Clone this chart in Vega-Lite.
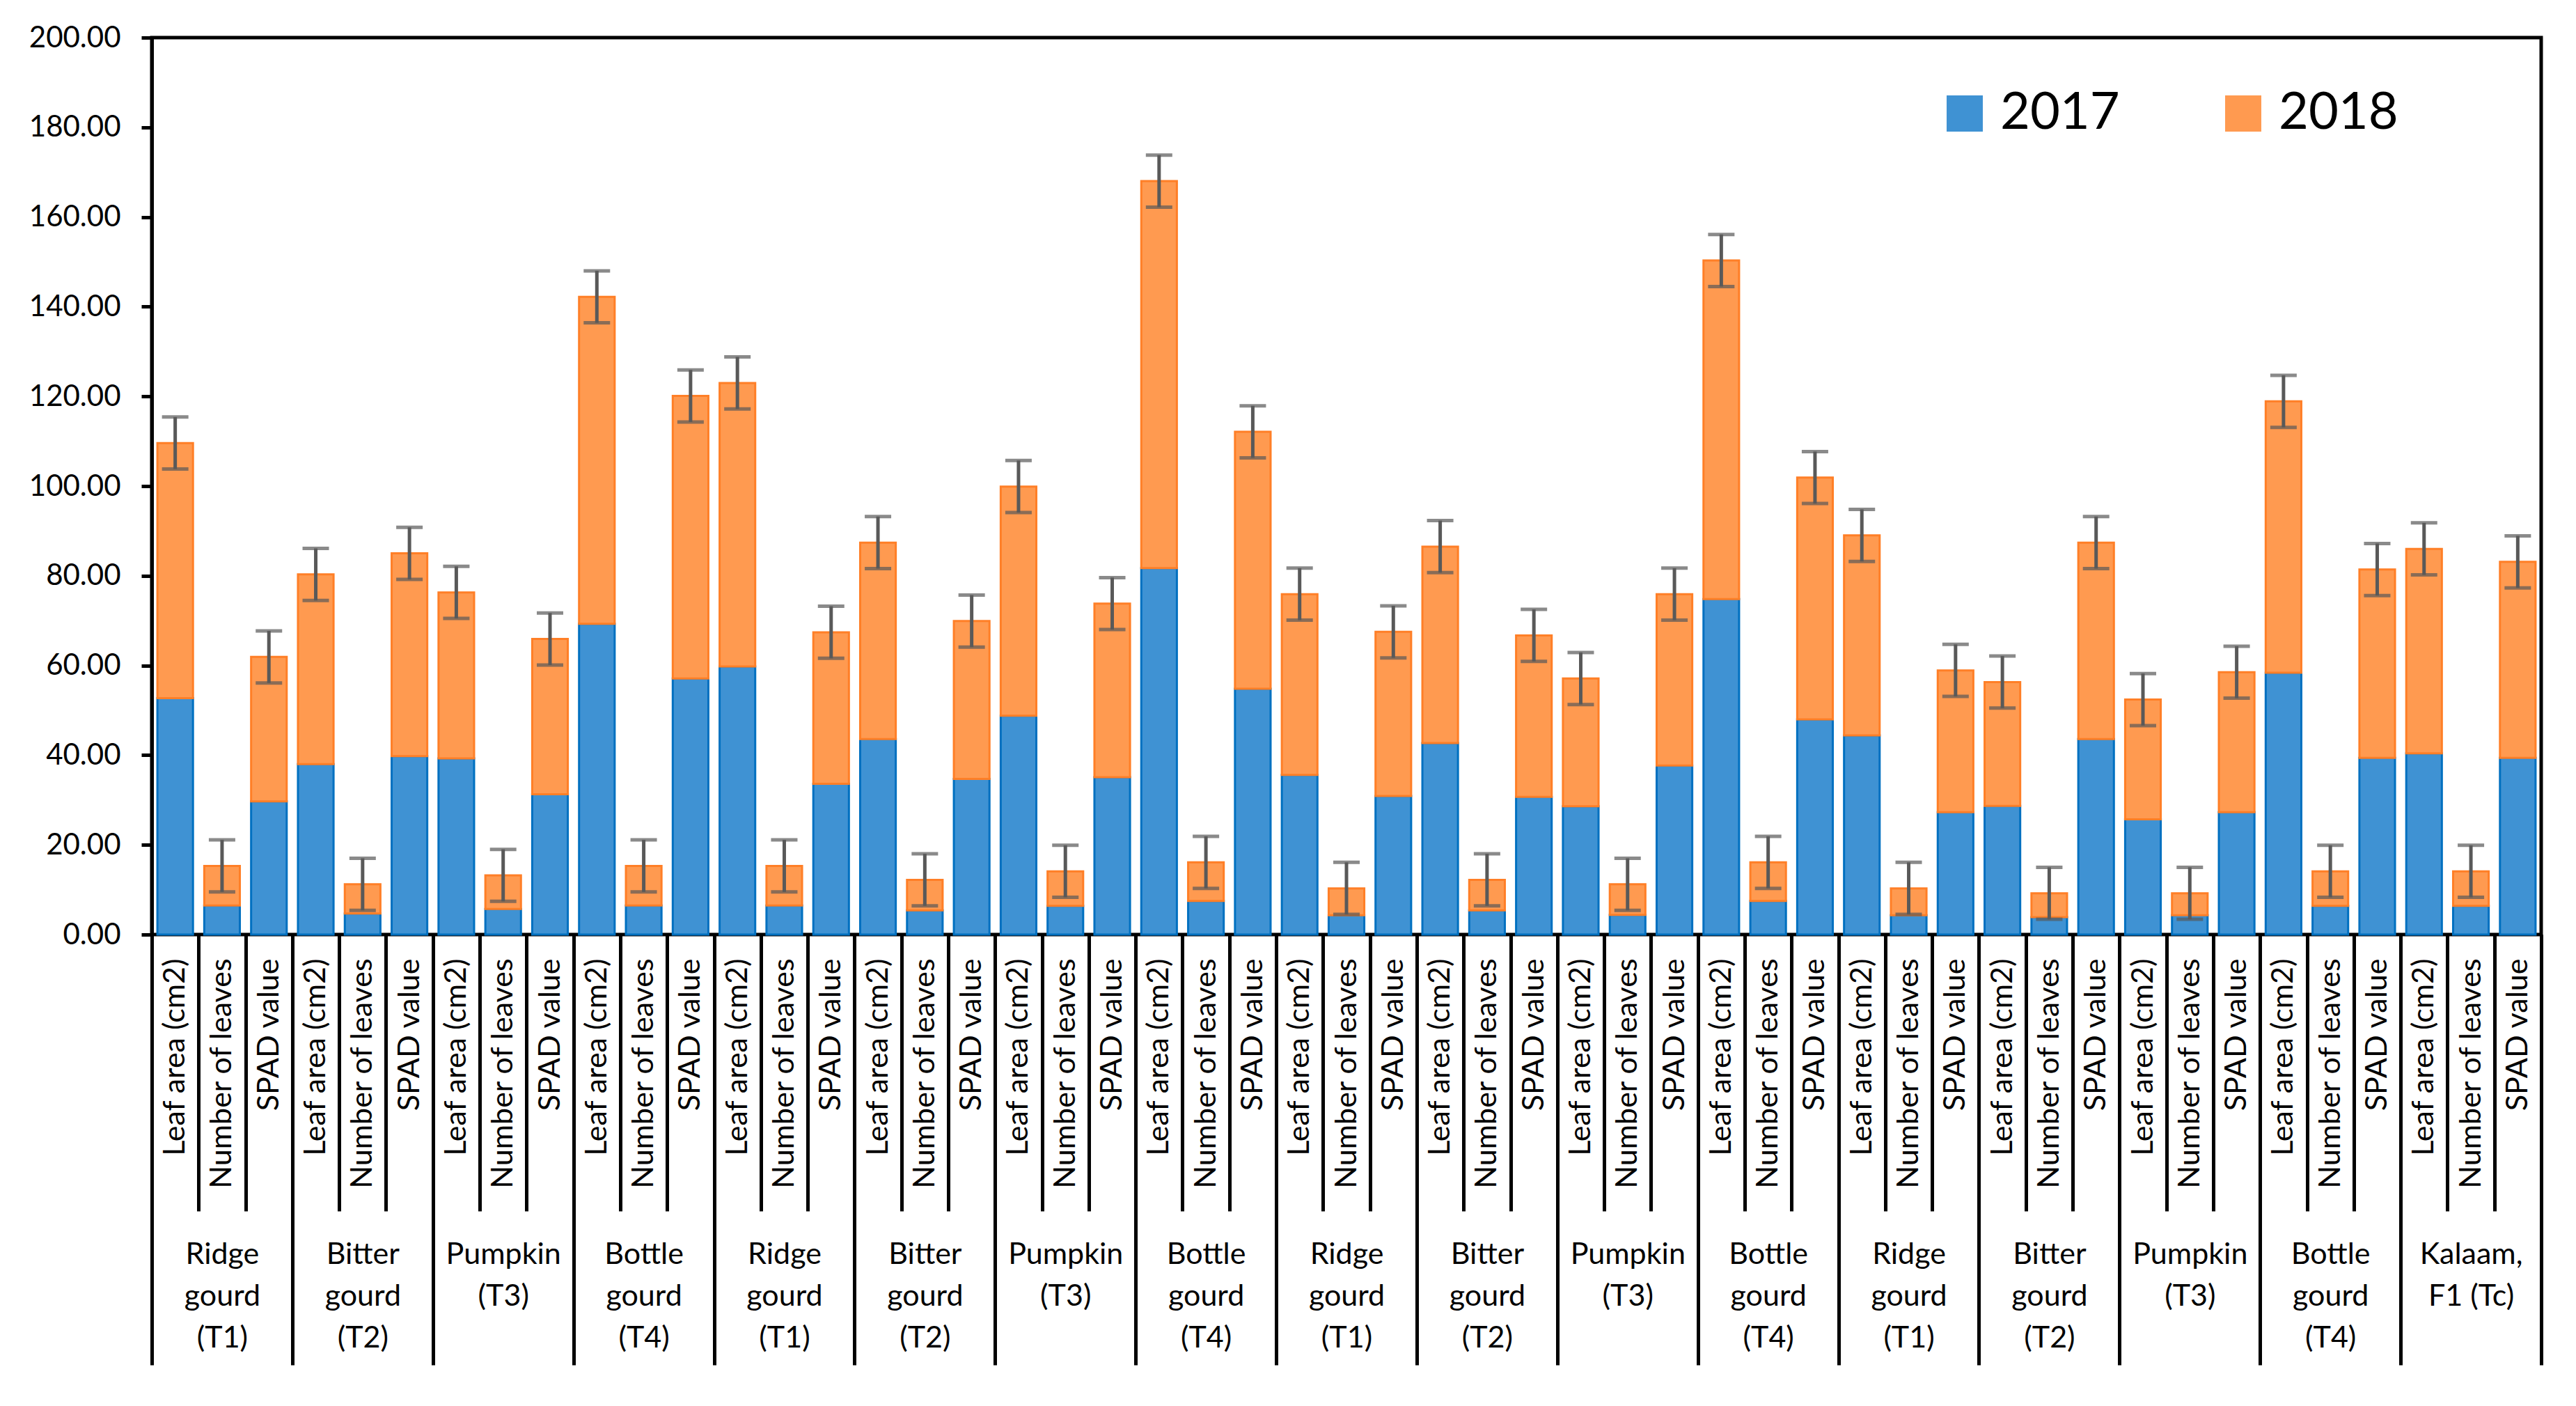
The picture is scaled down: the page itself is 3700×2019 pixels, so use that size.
{
  "$schema": "https://vega.github.io/schema/vega-lite/v6.json",
  "description": "Stacked bars of leaf area, number of leaves and SPAD value for 2017 and 2018, by crop.",
  "width": 3432,
  "height": 1288,
  "autosize": {"type": "none"},
  "padding": {"left": 218, "top": 54, "right": 50, "bottom": 677},
  "background": "white",
  "data": {
    "values": [
      {"k": "01 Leaf area (cm2)", "g": "01 Ridge|gourd|(T1)", "2017": 52.7, "2018": 56.9, "sd": 5.8},
      {"k": "02 Number of leaves", "g": "01 Ridge|gourd|(T1)", "2017": 6.5, "2018": 8.8, "sd": 5.8},
      {"k": "03 SPAD value", "g": "01 Ridge|gourd|(T1)", "2017": 29.7, "2018": 32.2, "sd": 5.8},
      {"k": "04 Leaf area (cm2)", "g": "02 Bitter|gourd|(T2)", "2017": 38.0, "2018": 42.3, "sd": 5.8},
      {"k": "05 Number of leaves", "g": "02 Bitter|gourd|(T2)", "2017": 4.7, "2018": 6.5, "sd": 5.8},
      {"k": "06 SPAD value", "g": "02 Bitter|gourd|(T2)", "2017": 39.8, "2018": 45.2, "sd": 5.8},
      {"k": "07 Leaf area (cm2)", "g": "03 Pumpkin|(T3)", "2017": 39.3, "2018": 37.0, "sd": 5.8},
      {"k": "08 Number of leaves", "g": "03 Pumpkin|(T3)", "2017": 5.7, "2018": 7.5, "sd": 5.8},
      {"k": "09 SPAD value", "g": "03 Pumpkin|(T3)", "2017": 31.3, "2018": 34.6, "sd": 5.8},
      {"k": "10 Leaf area (cm2)", "g": "04 Bottle|gourd|(T4)", "2017": 69.3, "2018": 72.9, "sd": 5.8},
      {"k": "11 Number of leaves", "g": "04 Bottle|gourd|(T4)", "2017": 6.5, "2018": 8.8, "sd": 5.8},
      {"k": "12 SPAD value", "g": "04 Bottle|gourd|(T4)", "2017": 57.1, "2018": 63.0, "sd": 5.8},
      {"k": "13 Leaf area (cm2)", "g": "05 Ridge|gourd|(T1)", "2017": 59.8, "2018": 63.2, "sd": 5.8},
      {"k": "14 Number of leaves", "g": "05 Ridge|gourd|(T1)", "2017": 6.5, "2018": 8.8, "sd": 5.8},
      {"k": "15 SPAD value", "g": "05 Ridge|gourd|(T1)", "2017": 33.6, "2018": 33.8, "sd": 5.8},
      {"k": "16 Leaf area (cm2)", "g": "06 Bitter|gourd|(T2)", "2017": 43.6, "2018": 43.8, "sd": 5.8},
      {"k": "17 Number of leaves", "g": "06 Bitter|gourd|(T2)", "2017": 5.4, "2018": 6.8, "sd": 5.8},
      {"k": "18 SPAD value", "g": "06 Bitter|gourd|(T2)", "2017": 34.7, "2018": 35.2, "sd": 5.8},
      {"k": "19 Leaf area (cm2)", "g": "07 Pumpkin|(T3)", "2017": 48.8, "2018": 51.1, "sd": 5.8},
      {"k": "20 Number of leaves", "g": "07 Pumpkin|(T3)", "2017": 6.4, "2018": 7.7, "sd": 5.8},
      {"k": "21 SPAD value", "g": "07 Pumpkin|(T3)", "2017": 35.1, "2018": 38.7, "sd": 5.8},
      {"k": "22 Leaf area (cm2)", "g": "08 Bottle|gourd|(T4)", "2017": 81.7, "2018": 86.3, "sd": 5.8},
      {"k": "23 Number of leaves", "g": "08 Bottle|gourd|(T4)", "2017": 7.5, "2018": 8.6, "sd": 5.8},
      {"k": "24 SPAD value", "g": "08 Bottle|gourd|(T4)", "2017": 54.8, "2018": 57.3, "sd": 5.8},
      {"k": "25 Leaf area (cm2)", "g": "09 Ridge|gourd|(T1)", "2017": 35.6, "2018": 40.3, "sd": 5.8},
      {"k": "26 Number of leaves", "g": "09 Ridge|gourd|(T1)", "2017": 4.3, "2018": 6.0, "sd": 5.8},
      {"k": "27 SPAD value", "g": "09 Ridge|gourd|(T1)", "2017": 30.9, "2018": 36.6, "sd": 5.8},
      {"k": "28 Leaf area (cm2)", "g": "10 Bitter|gourd|(T2)", "2017": 42.7, "2018": 43.8, "sd": 5.8},
      {"k": "29 Number of leaves", "g": "10 Bitter|gourd|(T2)", "2017": 5.4, "2018": 6.8, "sd": 5.8},
      {"k": "30 SPAD value", "g": "10 Bitter|gourd|(T2)", "2017": 30.7, "2018": 36.0, "sd": 5.8},
      {"k": "31 Leaf area (cm2)", "g": "11 Pumpkin|(T3)", "2017": 28.6, "2018": 28.5, "sd": 5.8},
      {"k": "32 Number of leaves", "g": "11 Pumpkin|(T3)", "2017": 4.4, "2018": 6.8, "sd": 5.8},
      {"k": "33 SPAD value", "g": "11 Pumpkin|(T3)", "2017": 37.7, "2018": 38.2, "sd": 5.8},
      {"k": "34 Leaf area (cm2)", "g": "12 Bottle|gourd|(T4)", "2017": 74.8, "2018": 75.5, "sd": 5.8},
      {"k": "35 Number of leaves", "g": "12 Bottle|gourd|(T4)", "2017": 7.5, "2018": 8.6, "sd": 5.8},
      {"k": "36 SPAD value", "g": "12 Bottle|gourd|(T4)", "2017": 48.0, "2018": 53.9, "sd": 5.8},
      {"k": "37 Leaf area (cm2)", "g": "13 Ridge|gourd|(T1)", "2017": 44.4, "2018": 44.6, "sd": 5.8},
      {"k": "38 Number of leaves", "g": "13 Ridge|gourd|(T1)", "2017": 4.3, "2018": 6.0, "sd": 5.8},
      {"k": "39 SPAD value", "g": "13 Ridge|gourd|(T1)", "2017": 27.3, "2018": 31.6, "sd": 5.8},
      {"k": "40 Leaf area (cm2)", "g": "14 Bitter|gourd|(T2)", "2017": 28.7, "2018": 27.6, "sd": 5.8},
      {"k": "41 Number of leaves", "g": "14 Bitter|gourd|(T2)", "2017": 3.9, "2018": 5.3, "sd": 5.8},
      {"k": "42 SPAD value", "g": "14 Bitter|gourd|(T2)", "2017": 43.6, "2018": 43.8, "sd": 5.8},
      {"k": "43 Leaf area (cm2)", "g": "15 Pumpkin|(T3)", "2017": 25.7, "2018": 26.7, "sd": 5.8},
      {"k": "44 Number of leaves", "g": "15 Pumpkin|(T3)", "2017": 4.3, "2018": 4.9, "sd": 5.8},
      {"k": "45 SPAD value", "g": "15 Pumpkin|(T3)", "2017": 27.3, "2018": 31.2, "sd": 5.8},
      {"k": "46 Leaf area (cm2)", "g": "16 Bottle|gourd|(T4)", "2017": 58.4, "2018": 60.5, "sd": 5.8},
      {"k": "47 Number of leaves", "g": "16 Bottle|gourd|(T4)", "2017": 6.4, "2018": 7.7, "sd": 5.8},
      {"k": "48 SPAD value", "g": "16 Bottle|gourd|(T4)", "2017": 39.4, "2018": 42.0, "sd": 5.8},
      {"k": "49 Leaf area (cm2)", "g": "17 Kalaam,|F1 (Tc)", "2017": 40.4, "2018": 45.6, "sd": 5.8},
      {"k": "50 Number of leaves", "g": "17 Kalaam,|F1 (Tc)", "2017": 6.4, "2018": 7.7, "sd": 5.8},
      {"k": "51 SPAD value", "g": "17 Kalaam,|F1 (Tc)", "2017": 39.4, "2018": 43.7, "sd": 5.8}
    ]
  },
  "layer": [
    {
      "transform": [{"fold": ["2017", "2018"], "as": ["year", "value"]}],
      "layer": [
        {
          "mark": {"type": "bar", "width": {"band": 0.76}, "strokeWidth": 3},
          "encoding": {
            "x": {
              "field": "k",
              "type": "nominal",
              "scale": {"paddingInner": 0, "paddingOuter": 0},
              "axis": {
                "title": null,
                "orient": "bottom",
                "domain": false,
                "labelExpr": "substring(datum.label, 3)",
                "labelAngle": -90,
                "labelFontSize": 43,
                "labelColor": "black",
                "labelLimit": 600,
                "labelOverlap": false,
                "labelPadding": -363,
                "tickBand": "extent",
                "tickSize": 397,
                "tickWidth": 5,
                "tickColor": "black"
              }
            },
            "y": {
              "field": "value",
              "type": "quantitative",
              "stack": "zero",
              "scale": {"domain": [0, 200]},
              "axis": {
                "title": null,
                "values": [0, 20, 40, 60, 80, 100, 120, 140, 160, 180, 200],
                "format": ".2f",
                "grid": false,
                "labelFontSize": 42,
                "labelColor": "black",
                "labelPadding": 30,
                "tickSize": 15,
                "tickWidth": 5,
                "tickColor": "black",
                "domainWidth": 5,
                "domainColor": "black"
              }
            },
            "order": {"field": "year", "sort": "ascending"},
            "color": {
              "field": "year",
              "type": "nominal",
              "scale": {"domain": ["2017", "2018"], "range": ["#3f92d3", "#ff9a50"]},
              "legend": {
                "title": null,
                "orient": "none",
                "legendX": 2567,
                "legendY": 72,
                "direction": "horizontal",
                "symbolType": "square",
                "symbolSize": 2700,
                "symbolStrokeWidth": 0,
                "labelFontSize": 74,
                "labelColor": "black",
                "labelLimit": 400,
                "labelOffset": 14,
                "columnPadding": 140
              }
            },
            "stroke": {
              "field": "year",
              "type": "nominal",
              "scale": {"domain": ["2017", "2018"], "range": ["#0070c0", "#ff7f27"]},
              "legend": null
            }
          }
        },
        {
          "transform": [
            {
              "aggregate": [
                {"op": "sum", "field": "value", "as": "total"},
                {"op": "max", "field": "sd", "as": "sd"}
              ],
              "groupby": ["k"]
            }
          ],
          "mark": {
            "type": "errorbar",
            "color": "#595959",
            "ticks": {"size": 38, "thickness": 5, "color": "#595959"},
            "rule": {"strokeWidth": 5, "color": "#595959"}
          },
          "encoding": {
            "x": {"field": "k", "type": "nominal"},
            "y": {"field": "total", "type": "quantitative", "title": null},
            "yError": {"field": "sd"}
          }
        }
      ]
    },
    {
      "mark": {"type": "rule", "opacity": 0},
      "encoding": {
        "x": {
          "field": "g",
          "type": "nominal",
          "scale": {"type": "band", "paddingInner": 0, "paddingOuter": 0},
          "axis": {
            "title": null,
            "orient": "bottom",
            "domain": false,
            "labelExpr": "split(substring(datum.label, 3), '|')",
            "labelAngle": 0,
            "labelAlign": "center",
            "labelBaseline": "top",
            "labelLineHeight": 60,
            "labelFontSize": 43,
            "labelColor": "black",
            "labelLimit": 600,
            "labelOverlap": false,
            "labelPadding": -180,
            "tickBand": "extent",
            "tickSize": 618,
            "tickWidth": 5,
            "tickColor": "black"
          }
        }
      }
    }
  ],
  "resolve": {"scale": {"x": "independent"}, "axis": {"x": "independent"}},
  "config": {
    "font": "Lato",
    "view": {"stroke": "black", "strokeWidth": 5}
  }
}
